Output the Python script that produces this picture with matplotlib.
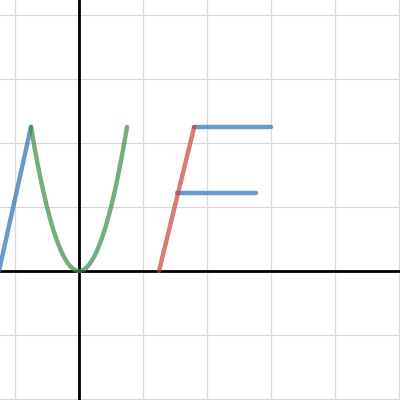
import numpy as np
import matplotlib
matplotlib.use("Agg")
import matplotlib.pyplot as plt

# segments (x0, y0, x1, y1)
blue_segments = [(-1.25, 0.0, -0.75, 2.25), (1.8, 2.25, 3.0, 2.25), (1.53, 1.22, 2.77, 1.22)]
red_segments = [(1.25, 0.0, 1.8, 2.25)]
parab_a = 4.0
parab_range = (-0.75, 0.75)

fig = plt.figure(figsize=(4, 4), dpi=100)
ax = fig.add_axes([0, 0, 1, 1])
ax.set_xlim(-79/64, 321/64)
ax.set_ylim(-129/64, 271/64)
for v in range(-1, 6):
    ax.axvline(v, color='#d8d8d8', lw=0.9, zorder=0)
for v in range(-2, 5):
    ax.axhline(v, color='#d8d8d8', lw=0.9, zorder=0)
ax.axhline(0, color='black', lw=2, zorder=1)
ax.axvline(0, color='black', lw=2, zorder=1)
lw = 3.2
for x0, y0, x1, y1 in blue_segments:
    ax.plot([x0, x1], [y0, y1], color='#2d70b3', alpha=0.7, lw=lw, solid_capstyle='round', zorder=3)
for x0, y0, x1, y1 in red_segments:
    ax.plot([x0, x1], [y0, y1], color='#c74440', alpha=0.7, lw=lw, solid_capstyle='round', zorder=3)
xs = np.linspace(*parab_range, 200)
ax.plot(xs, parab_a * xs**2, color='#388c46', alpha=0.7, lw=lw, solid_capstyle='round', zorder=3)
ax.set_xticks([]); ax.set_yticks([])
for s in ax.spines.values():
    s.set_visible(False)
fig.savefig('out.png', dpi=100)
